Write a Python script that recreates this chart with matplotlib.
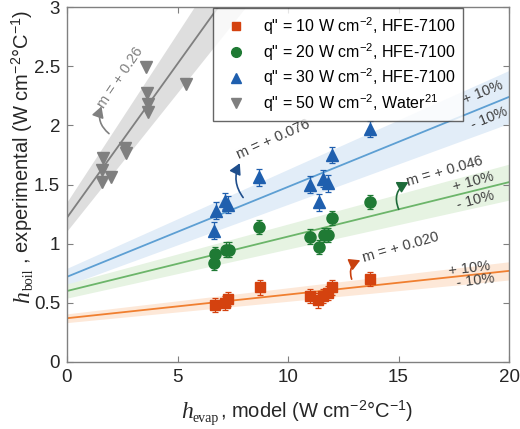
import numpy as np
import matplotlib
matplotlib.use("Agg")
import matplotlib.pyplot as plt
from matplotlib.patches import FancyArrowPatch
from matplotlib.lines import Line2D

plt.rcParams['font.family'] = ['Liberation Sans', 'DejaVu Sans']
plt.rcParams['mathtext.fontset'] = 'custom'
plt.rcParams['mathtext.rm'] = 'Liberation Sans'
plt.rcParams['mathtext.it'] = 'Liberation Sans:italic'

# ---- data ----
x10 = [6.68, 7.13, 7.28, 8.72, 10.98, 11.38, 11.60, 11.80, 12.01, 13.72]
y10 = [0.48, 0.50, 0.53, 0.63, 0.56, 0.52, 0.56, 0.58, 0.63, 0.70]
e10 = 0.06

x20 = [6.64, 6.68, 7.18, 7.33, 8.70, 10.98, 11.40, 11.62, 11.82, 12.01, 13.70]
y20 = [0.84, 0.91, 0.95, 0.95, 1.14, 1.06, 0.97, 1.07, 1.07, 1.22, 1.35]
e20 = 0.06

x30 = [6.64, 6.73, 7.13, 7.28, 8.70, 10.98, 11.40, 11.57, 11.81, 12.01, 13.70]
y30 = [1.11, 1.28, 1.36, 1.33, 1.56, 1.50, 1.35, 1.55, 1.51, 1.75, 1.97]
e30 = 0.07

x50 = [3.59, 5.37, 3.62, 3.68, 3.66, 2.62, 2.68, 1.62, 1.60, 2.00, 1.57]
y50 = [2.49, 2.35, 2.27, 2.18, 2.11, 1.81, 1.77, 1.72, 1.62, 1.56, 1.52]

# fits: slope, intercept
fit_slopes = {'10': 0.020, '20': 0.046, '30': 0.076, '50': 0.26}
fit_inter = {'10': 0.37, '20': 0.60, '30': 0.72, '50': 1.22}

labels = ['q" = 10 W cm$^{-2}$, HFE-7100',
          'q" = 20 W cm$^{-2}$, HFE-7100',
          'q" = 30 W cm$^{-2}$, HFE-7100',
          'q" = 50 W cm$^{-2}$, Water$^{21}$']

W, H = 520, 429
fig = plt.figure(figsize=(W / 100, H / 100), dpi=100)
ax = fig.add_axes([67 / W, (H - 362) / H, 442 / W, 355 / H])

xx = np.linspace(0, 20, 200)
line_cols = {'10': '#f07f30', '20': '#6cb56a', '30': '#5d9fd3', '50': '#7f7f7f'}
band_cols = {'10': '#fde8d8', '20': '#e6f3e2', '30': '#e2edf8', '50': '#dedede'}
for k in ['50', '30', '20', '10']:
    yy = fit_slopes[k] * xx + fit_inter[k]
    ax.fill_between(xx, yy * 0.9, yy * 1.1, color=band_cols[k], lw=0, zorder=1)
    ax.plot(xx, yy, color=line_cols[k], lw=1.3, zorder=2)

cols = ['#d4420f', '#1f7a34', '#1f5fae', '#7f7f7f']
ms = 7
ekw = dict(capsize=2.5, elinewidth=0.9, capthick=0.9, zorder=4)
ax.errorbar(x10, y10, yerr=e10, fmt='s', color=cols[0], ms=ms, **ekw)
ax.errorbar(x20, y20, yerr=e20, fmt='o', color=cols[1], ms=ms + 1, **ekw)
ax.errorbar(x30, y30, yerr=e30, fmt='^', color=cols[2], ms=ms + 1, **ekw)
ax.plot(x50, y50, 'v', color=cols[3], ms=ms + 1, zorder=4)

ax.set_xlim(0, 20)
ax.set_ylim(0, 3)
ax.set_xticks([0, 5, 10, 15, 20])
ax.set_yticks([0, 0.5, 1, 1.5, 2, 2.5, 3])
ax.set_yticklabels(['0', '0.5', '1', '1.5', '2', '2.5', '3'])
ax.tick_params(direction='in', length=4, labelsize=13.5, colors='#808080',
               labelcolor='#262626', top=True, right=True, pad=5)
for s in ax.spines.values():
    s.set_color('#808080')
    s.set_linewidth(1.0)

handles = [Line2D([], [], ls='none', marker=m, color=c, ms=s)
           for m, c, s in zip(['s', 'o', '^', 'v'], cols, [6, 7, 7, 7])]
leg = ax.legend(handles=handles, labels=labels, loc='upper left',
                bbox_to_anchor=(0.33, 0.997), fontsize=11.5, frameon=True, fancybox=False,
                edgecolor='#404040', borderpad=0.45, handletextpad=0.7, labelspacing=0.25,
                handlelength=2.0, borderaxespad=0.0)
leg.get_frame().set_linewidth(1.0)
leg.set_zorder(10)

tc = '#404040'
ax.text(2.4, 2.40, 'm = + 0.26', rotation=56, color='#808080', fontsize=10.5,
        ha='center', va='center')
ax.text(9.35, 1.88, 'm = + 0.076', rotation=24, color=tc, fontsize=10.5, ha='center', va='center')
ax.text(17.1, 1.61, 'm = + 0.046', rotation=16, color=tc, fontsize=10.5, ha='center', va='center')
ax.text(15.1, 0.97, 'm = + 0.020', rotation=16, color=tc, fontsize=10.5, ha='center', va='center')

pct = [(18.8, 2.28, '+ 10%', 22), (19.1, 2.06, '- 10%', 22),
       (18.4, 1.52, '+ 10%', 15), (18.5, 1.37, '- 10%', 15),
       (18.2, 0.79, '+ 10%', 7), (18.5, 0.69, '- 10%', 7)]
for x, y, t, r in pct:
    ax.text(x, y, t, rotation=r, color=tc, fontsize=10.5, ha='center', va='center')

arrows = [((1.90, 1.93), (1.56, 2.16), '#808080', -0.35),
          ((7.97, 1.39), (7.82, 1.68), '#1f4e8c', -0.3),
          ((15.01, 1.29), (15.45, 1.52), '#1e6b3a', -0.45),
          ((12.88, 0.70), (13.27, 0.86), '#c8400e', -0.45)]
for p0, p1, c, rad in arrows:
    a = FancyArrowPatch(p0, p1, connectionstyle=f'arc3,rad={rad}',
                        arrowstyle='-|>,head_length=0.8,head_width=0.45',
                        mutation_scale=8, color=c, lw=1.2, zorder=5,
                        shrinkA=0, shrinkB=0)
    ax.add_patch(a)

# ---- axis labels built from pieces (large italic serif h, serif subscript) ----
lc = '#262626'
fig.canvas.draw()
r = fig.canvas.get_renderer()

# x label
base = (H - 418) / H
t1 = fig.text(181 / W, base, 'h', fontsize=17, family='Liberation Serif', style='italic',
              color=lc, ha='left', va='baseline')
b1 = t1.get_window_extent(r)
t2 = fig.text(b1.x1 / W, base - 4 / H, 'evap', fontsize=10, family='Liberation Serif',
              color=lc, ha='left', va='baseline')
b2 = t2.get_window_extent(r)
fig.text(b2.x1 / W + 1 / W, base, r', model (W cm$^{-2}$°C$^{-1}$)',
         fontsize=14.5, color=lc, ha='left', va='baseline')

# y label (rotated)
bx = 29 / W
rk = dict(ha='left', va='baseline', rotation=90, rotation_mode='anchor', color=lc)
y0 = (H - 303) / H
s1 = fig.text(bx, y0, 'h', fontsize=17, family='Liberation Serif', style='italic', **rk)
c1 = s1.get_window_extent(r)
s2 = fig.text(bx + 4 / W, c1.y1 / H, 'boil', fontsize=10, family='Liberation Serif', **rk)
c2 = s2.get_window_extent(r)
fig.text(bx, c2.y1 / H + 1 / H, r' , experimental (W cm$^{-2}$°C$^{-1}$)',
         fontsize=14.5, **rk)

fig.savefig('out.png', dpi=100)
